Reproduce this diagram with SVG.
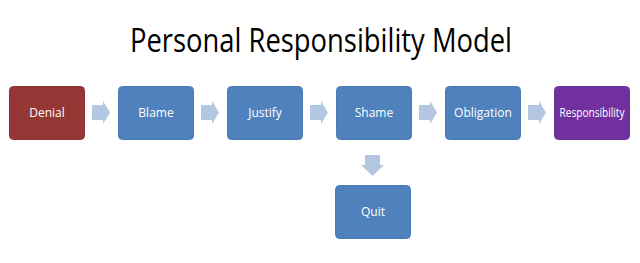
<svg xmlns="http://www.w3.org/2000/svg" width="640" height="263" viewBox="0 0 640 263">
<style>
.box{stroke-width:1}
.blue{fill:#4f81bd;stroke:#4a7ab3}
.red{fill:#953735;stroke:#8a3331}
.purple{fill:#7030a0;stroke:#682c95}
.lbl{font-family:"Open Sans","Liberation Sans",sans-serif;font-size:12px;fill:#ffffff;text-anchor:middle}
.arr{fill:#b3c6e2}
.title{font-family:"Open Sans","Liberation Sans",sans-serif;font-size:33px;fill:#000000;text-anchor:middle}
</style>
<rect width="640" height="263" fill="#ffffff"/>
<text class="title" x="321" y="52" textLength="382" lengthAdjust="spacingAndGlyphs">Personal Responsibility Model</text>
<g id="connectors">
<polygon class="arr" points="92,105 103,105 103,101 110,112.5 103,124 103,120 92,120"/>
<polygon class="arr" points="201,105 212,105 212,101 219,112.5 212,124 212,120 201,120"/>
<polygon class="arr" points="310,105 321,105 321,101 328,112.5 321,124 321,120 310,120"/>
<polygon class="arr" points="419,105 430,105 430,101 437,112.5 430,124 430,120 419,120"/>
<polygon class="arr" points="528,105 539,105 539,101 546,112.5 539,124 539,120 528,120"/>
<polygon class="arr" points="365,155 380,155 380,165 384,165 372.5,176 361,165 365,165"/>
</g>
<g id="denial"><rect class="box red" x="9.5" y="86.5" width="75" height="53" rx="4"/><text class="lbl" x="47" y="117">Denial</text></g>
<g id="blame"><rect class="box blue" x="118.5" y="86.5" width="75" height="53" rx="4"/><text class="lbl" x="156" y="117">Blame</text></g>
<g id="justify"><rect class="box blue" x="227.5" y="86.5" width="75" height="53" rx="4"/><text class="lbl" x="265" y="117">Justify</text></g>
<g id="shame"><rect class="box blue" x="336.5" y="86.5" width="75" height="53" rx="4"/><text class="lbl" x="374" y="117">Shame</text></g>
<g id="obligation"><rect class="box blue" x="445.5" y="86.5" width="75" height="53" rx="4"/><text class="lbl" x="483" y="117">Obligation</text></g>
<g id="responsibility"><rect class="box purple" x="554.5" y="86.5" width="75" height="53" rx="4"/><text class="lbl" x="592" y="117" textLength="65" lengthAdjust="spacingAndGlyphs">Responsibility</text></g>
<g id="quit"><rect class="box blue" x="335.5" y="185.5" width="75" height="53" rx="4"/><text class="lbl" x="373" y="216">Quit</text></g>
</svg>
